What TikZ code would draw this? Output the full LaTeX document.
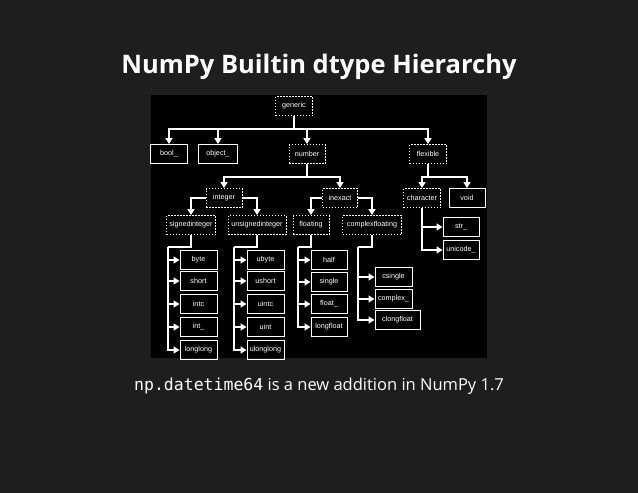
\documentclass[tikz,border=0pt]{standalone}
\usepackage{fontspec}
\setmainfont{Open Sans}
\newfontfamily\diag{Liberation Sans}
\setmonofont{DejaVu Sans Mono}
\usetikzlibrary{arrows.meta}
\definecolor{bg}{HTML}{1E1E1E}
\begin{document}
\begin{tikzpicture}[x=1pt,y=-1pt,
  box/.style={draw=white,line width=0.9pt,text=white,font=\diag\fontsize{7.2}{8}\selectfont,minimum height=19pt,inner sep=0.5pt},
  abs/.style={box,dashed,dash pattern=on 1.5pt off 1.5pt},
  leaf/.style={box},
  arr/.style={draw=white,line width=1.4pt,-{Triangle[width=7pt,length=6pt]}},
  ln/.style={draw=white,line width=1.4pt}]
\fill[bg] (0,0) rectangle (638,493);
\useasboundingbox (0,0) rectangle (638,493);
\fill[black] (151,95) rectangle (487,358);
\node[text=white,font=\bfseries\fontsize{25.5}{30}\selectfont] (title) at (319,67) {NumPy Builtin dtype Hierarchy};
\node[text=white,font=\fontsize{16.5}{20}\selectfont] (note) at (319,386) {\texttt{np.datetime64} is a new addition in NumPy 1.7};
% level 0-1
\node[abs,minimum width=37pt] (generic) at (294,106) {generic};
\node[leaf,minimum width=37pt] (bool) at (169,154) {bool\_};
\node[leaf,minimum width=39pt] (object) at (218,154) {object\_};
\node[abs,minimum width=36pt] (number) at (307,154) {number};
\node[abs,minimum width=37pt] (flexible) at (428,154) {flexible};
\coordinate (g) at (294,129);
\draw[ln] (generic.south) -- (g);
\foreach \c in {bool,object,number,flexible} \draw[arr] (g) -| (\c.north);
% level 2
\node[abs,minimum width=36pt] (integer) at (224,198) {integer};
\node[abs,minimum width=35pt] (inexact) at (340,198) {inexact};
\node[abs,minimum width=37pt] (character) at (422,198) {character};
\node[leaf,minimum width=36pt] (void) at (467,198) {void};
\coordinate (n) at (307,177);
\draw[ln] (number.south) -- (n);
\draw[arr] (n) -| (integer.north);
\draw[arr] (n) -| (inexact.north);
\coordinate (f) at (428,177);
\draw[ln] (flexible.south) -- (f);
\draw[arr] (f) -| (character.north);
\draw[arr] (f) -| (void.north);
% level 3
\node[abs,minimum width=49pt] (signed) at (191,225) {signedinteger};
\node[abs,minimum width=58pt] (unsigned) at (257,225) {unsignedinteger};
\node[abs,minimum width=36pt] (floating) at (311,225) {floating};
\node[abs,minimum width=59pt] (complexf) at (372,225) {complexfloating};
\node[leaf,minimum width=36pt] (str) at (461,227) {str\_};
\node[leaf,minimum width=36pt] (unicode) at (461,250) {unicode\_};
\draw[arr] (integer.west) -| (signed.north);
\draw[arr] (integer.east) -| (unsigned.north);
\draw[arr] (inexact.west) -| (floating.north);
\draw[arr] (inexact.east) -| (complexf.north);
\draw[arr] (character.south) |- (str.west);
\draw[arr] (character.south) |- (unicode.west);
% leaves
\foreach \n/\t/\y in {byte/byte/260,short/short/281,intc/intc/304,int/int\_/327,longlong/longlong/350}
  \node[leaf,minimum width=37pt] (\n) at (198.5,\y) {\t};
\foreach \n/\t/\y in {ubyte/ubyte/260,ushort/ushort/281,uintc/uintc/304,uint/uint/327,ulonglong/ulonglong/350}
  \node[leaf,minimum width=37pt] (\n) at (265.5,\y) {\t};
\foreach \n/\t/\y in {half/half/260,single/single/282,float/float\_/304,longfloat/longfloat/327}
  \node[leaf,minimum width=36pt] (\n) at (329,\y) {\t};
\node[leaf,minimum width=37pt] (csingle) at (393.5,277) {csingle};
\node[leaf,minimum width=37pt] (complex) at (393.5,299) {complex\_};
\node[leaf,minimum width=45pt] (clongfloat) at (397.5,320) {clongfloat};
\coordinate (si) at (168,247);
\draw[ln] (signed.south) |- (si);
\foreach \c in {byte,short,intc,int,longlong} \draw[arr] (si) |- (\c.west);
\coordinate (ui) at (234,247);
\draw[ln] (unsigned.south) |- (ui);
\foreach \c in {ubyte,ushort,uintc,uint,ulonglong} \draw[arr] (ui) |- (\c.west);
\coordinate (fl) at (298,247);
\draw[ln] (floating.south) |- (fl);
\foreach \c in {half,single,float,longfloat} \draw[arr] (fl) |- (\c.west);
\coordinate (cf) at (358,247);
\draw[ln] (complexf.south) |- (cf);
\foreach \c in {csingle,complex,clongfloat} \draw[arr] (cf) |- (\c.west);
\end{tikzpicture}
\end{document}
